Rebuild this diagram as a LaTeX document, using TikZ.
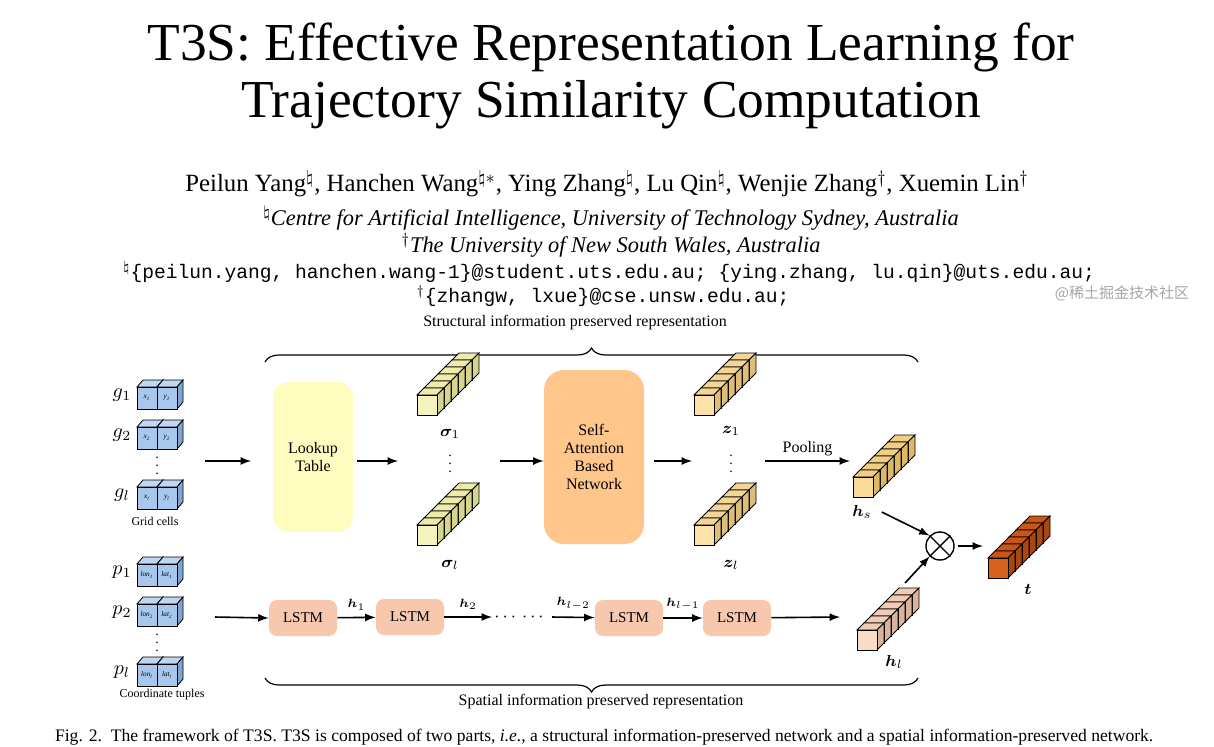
\documentclass[tikz,border=0pt]{standalone}
\usepackage{fontspec}
\usepackage{bm}
\setmainfont{Liberation Serif}
\setmonofont{Liberation Mono}
\newfontfamily\cjk{Noto Sans CJK SC}
\usetikzlibrary{decorations.pathreplacing}
\newcommand\cubebar[6]{% x y n front side top
  \foreach \i in {#3,...,0}{
    \pgfmathsetmacro\bx{#1+\i*7}\pgfmathsetmacro\by{#2-\i*7}
    \draw[line width=0.4pt,fill=#6] (\bx,\by-20) -- ++(20,0) -- ++(7,-7) -- ++(-20,0) -- cycle;
    \draw[line width=0.4pt,fill=#5] (\bx+20,\by) -- ++(7,-7) -- ++(0,-20) -- ++(-7,7) -- cycle;
    \draw[line width=0.4pt,fill=#4] (\bx,\by) rectangle ++(20,-20);
  }}
\newcommand\gridcell[4]{% x y label1 label2
  \foreach \k/\t in {0/#3,1/#4}{
    \pgfmathsetmacro\bx{#1+\k*20}
    \draw[fill=cellTop] (\bx,#2-22) -- ++(20,0) -- ++(6,-7) -- ++(-20,0) -- cycle;
    \draw[fill=cellSide] (\bx+20,#2) -- ++(6,-7) -- ++(0,-22) -- ++(-6,7) -- cycle;
    \draw[fill=cellFront] (\bx,#2) rectangle ++(20,-22);
    \node[font=\fontsize{3.6}{4}\selectfont\itshape,inner sep=0pt] at (\bx+10,#2-11) {\t};
  }}
\definecolor{cellFront}{HTML}{A7C8EC}
\definecolor{cellSide}{HTML}{7FA6D2}
\definecolor{cellTop}{HTML}{BFD7F2}
\definecolor{sigF}{HTML}{F6F4BE}\definecolor{sigS}{HTML}{D6D48E}\definecolor{sigT}{HTML}{EEECAA}
\definecolor{zF}{HTML}{FBE2A8}\definecolor{zS}{HTML}{DDBE78}\definecolor{zT}{HTML}{F3D595}
\definecolor{hsF}{HTML}{F9DB95}\definecolor{hsS}{HTML}{DDB868}\definecolor{hsT}{HTML}{F1CF82}
\definecolor{hlF}{HTML}{F8DCC8}\definecolor{hlS}{HTML}{D9B49C}\definecolor{hlT}{HTML}{F0CCB4}
\definecolor{tF}{HTML}{D7621C}\definecolor{tS}{HTML}{A8470F}\definecolor{tT}{HTML}{C95516}
\tikzset{
  arr/.style={-latex,line width=0.8pt},
  lstm/.style={draw=none,fill=lstmC,rounded corners=4pt,minimum width=34pt,minimum height=18pt,font=\fontsize{7.5}{8}\selectfont},
  lbl/.style={font=\fontsize{8}{9}\selectfont},
  mlbl/.style={font=\fontsize{10}{11}\selectfont},
  brc/.style={decorate,decoration={brace,amplitude=7pt},line width=0.6pt},
}
\definecolor{lstmC}{HTML}{F8C8AE}
\begin{document}
\begin{tikzpicture}[x=0.5pt,y=-0.5pt]
\useasboundingbox (0,0) rectangle (1214,746);
\fill[white] (0,0) rectangle (1214,746);
% header
\node[font=\fontsize{26.7}{30}\selectfont] (t1) at (611,47) {T3S: Effective Representation Learning for};
\node[font=\fontsize{26.7}{30}\selectfont] (t2) at (611,105) {Trajectory Similarity Computation};
\node[font=\fontsize{12.4}{14}\selectfont] (au) at (607,184) {Peilun Yang$^\natural$, Hanchen Wang$^{\natural*}$, Ying Zhang$^\natural$, Lu Qin$^\natural$, Wenjie Zhang$^\dagger$, Xuemin Lin$^\dagger$};
\node[font=\fontsize{11.2}{12}\selectfont\itshape] (af1) at (611,218) {$^\natural$Centre for Artificial Intelligence, University of Technology Sydney, Australia};
\node[font=\fontsize{11.2}{12}\selectfont\itshape] (af2) at (611,245) {$^\dagger$The University of New South Wales, Australia};
\node[font=\fontsize{9.8}{11}\selectfont\ttfamily] (em1) at (609,272) {$^\natural$\{peilun.yang, hanchen.wang-1\}@student.uts.edu.au; \{ying.zhang, lu.qin\}@uts.edu.au;};
\node[font=\fontsize{9.8}{11}\selectfont\ttfamily] (em2) at (603,296) {$^\dagger$\{zhangw, lxue\}@cse.unsw.edu.au;};
\node[font=\fontsize{7.5}{9}\selectfont\cjk,text=gray!70] (wm) at (1122,293) {@稀土掘金技术社区};
% braces
\node[lbl] (st) at (575,323) {Structural information preserved representation};
\draw[brc] (265,362) -- (918,362);
\node[lbl] (sp) at (601,702) {Spatial information preserved representation};
\draw[brc] (918,678) -- (265,678);
% grid cells
\foreach \y/\s in {409/1,449/2,509/l}{\gridcell{137}{\y}{x\textsubscript{\s}}{y\textsubscript{\s}}}
\node[mlbl] (g1) at (122,395) {$g_1$};
\node[mlbl] (g2) at (122,435) {$g_2$};
\node[mlbl] (gl) at (122,495) {$g_l$};
\node[font=\fontsize{7}{8}\selectfont] (gd) at (157,460) {$\vdots$};
\node[font=\fontsize{6}{7}\selectfont] (gc) at (155,521) {Grid cells};
\foreach \y/\s in {586/1,626/2,686/l}{\gridcell{137}{\y}{lon\textsubscript{\s}}{lat\textsubscript{\s}}}
\node[mlbl] (p1) at (122,572) {$p_1$};
\node[mlbl] (p2) at (122,612) {$p_2$};
\node[mlbl] (pl) at (122,672) {$p_l$};
\node[font=\fontsize{7}{8}\selectfont] (pd) at (157,637) {$\vdots$};
\node[font=\fontsize{6}{7}\selectfont] (ct) at (162,695) {Coordinate tuples};
% lookup
\node[draw=none,fill=yellow!25!white,rounded corners=8pt,minimum width=40pt,minimum height=75pt,lbl,align=center] (lk) at (313,457) {Lookup\\Table};
\coordinate (in1) at (205,461);
\draw[arr] (in1) -- (251,461);
\coordinate (s1) at (398,461);
\draw[arr] (lk.east|-s1) ++(4,0) -- (s1);
% sigma
\cubebar{417}{415}{5}{sigF}{sigS}{sigT}
\cubebar{417}{545}{5}{sigF}{sigS}{sigT}
\node[font=\fontsize{8}{9}\selectfont] (sg1) at (450,434) {$\bm{\sigma}_1$};
\node[font=\fontsize{7}{8}\selectfont] (sgd) at (450,458) {$\vdots$};
\node[font=\fontsize{8}{9}\selectfont] (sgl) at (450,565) {$\bm{\sigma}_l$};
% self attention
\node[draw=none,fill=orange!45!white,rounded corners=10pt,minimum width=50pt,minimum height=87pt,lbl,align=center] (sa) at (594,457) {Self-\\Attention\\Based\\Network};
\coordinate (s2) at (500,461);
\draw[arr] (s2) -- (sa.west|-s2);
\coordinate (s3) at (692,461);
\draw[arr] ([xshift=5pt]sa.east|-s3) -- (s3);
\cubebar{694}{415}{5}{zF}{zS}{zT}
\cubebar{694}{545}{5}{zF}{zS}{zT}
\node[font=\fontsize{8}{9}\selectfont] (z1) at (731,431) {$\bm{z}_1$};
\node[font=\fontsize{7}{8}\selectfont] (zd) at (731,458) {$\vdots$};
\node[font=\fontsize{8}{9}\selectfont] (zl) at (731,565) {$\bm{z}_l$};
\coordinate (p0) at (765,461);\coordinate (p9) at (850,461);
\draw[arr] (p0) -- node[above,lbl,yshift=-1pt]{Pooling} (p9);
\cubebar{853}{497}{5}{hsF}{hsS}{hsT}
\node[font=\fontsize{8}{9}\selectfont] (hs) at (862,512) {$\bm{h}_s$};
\cubebar{857}{650}{5}{hlF}{hlS}{hlT}
\node[font=\fontsize{8}{9}\selectfont] (hl) at (894,662) {$\bm{h}_l$};
\node[draw,circle,line width=0.7pt,minimum size=14pt,inner sep=0pt] (ot) at (940,546) {};
\draw[line width=0.7pt] (ot.north west) -- (ot.south east) (ot.north east) -- (ot.south west);
\draw[arr] (hs.east) ++(3,0) -- (ot.north west);
\coordinate (hlt) at (905,583);
\draw[arr] (hlt) -- (ot.south west);
\coordinate (tv) at (983,546);
\draw[arr] (ot.east) ++(3,0) -- (tv);
\cubebar{988}{578}{5}{tF}{tS}{tT}
\node[font=\fontsize{8}{9}\selectfont] (tt) at (1028,589) {$\bm{t}$};
% LSTM row
\node[lstm] (L1) at (303,618) {LSTM};
\node[lstm] (L2) at (410,617) {LSTM};
\node[lstm] (L3) at (629,618) {LSTM};
\node[lstm] (L4) at (737,618) {LSTM};
\coordinate (lin) at (215,617);
\draw[arr] (lin) -- (L1.west);
\draw[arr] (L1) -- node[above,font=\fontsize{6}{7}\selectfont]{$\bm{h}_1$} (L2);
\coordinate (d1) at (492,617);
\draw[arr] (L2) -- node[above,font=\fontsize{6}{7}\selectfont]{$\bm{h}_2$} (d1);
\node[font=\fontsize{9}{9}\selectfont] (dd) at (519,617) {$\cdots\,\cdots$};
\coordinate (d2) at (552,617);
\draw[arr] (d2) -- node[above,font=\fontsize{6}{7}\selectfont]{$\bm{h}_{l-2}$} (L3);
\draw[arr] (L3) -- node[above,font=\fontsize{6}{7}\selectfont]{$\bm{h}_{l-1}$} (L4);
\coordinate (lout) at (840,617);
\draw[arr] (L4) -- (lout);
% caption
\node[anchor=west,font=\fontsize{8.8}{10}\selectfont] (cap) at (48,737) {Fig. 2.\ \ The framework of T3S. T3S is composed of two parts, \textit{i.e.}, a structural information-preserved network and a spatial information-preserved network.};
\end{tikzpicture}
\end{document}
